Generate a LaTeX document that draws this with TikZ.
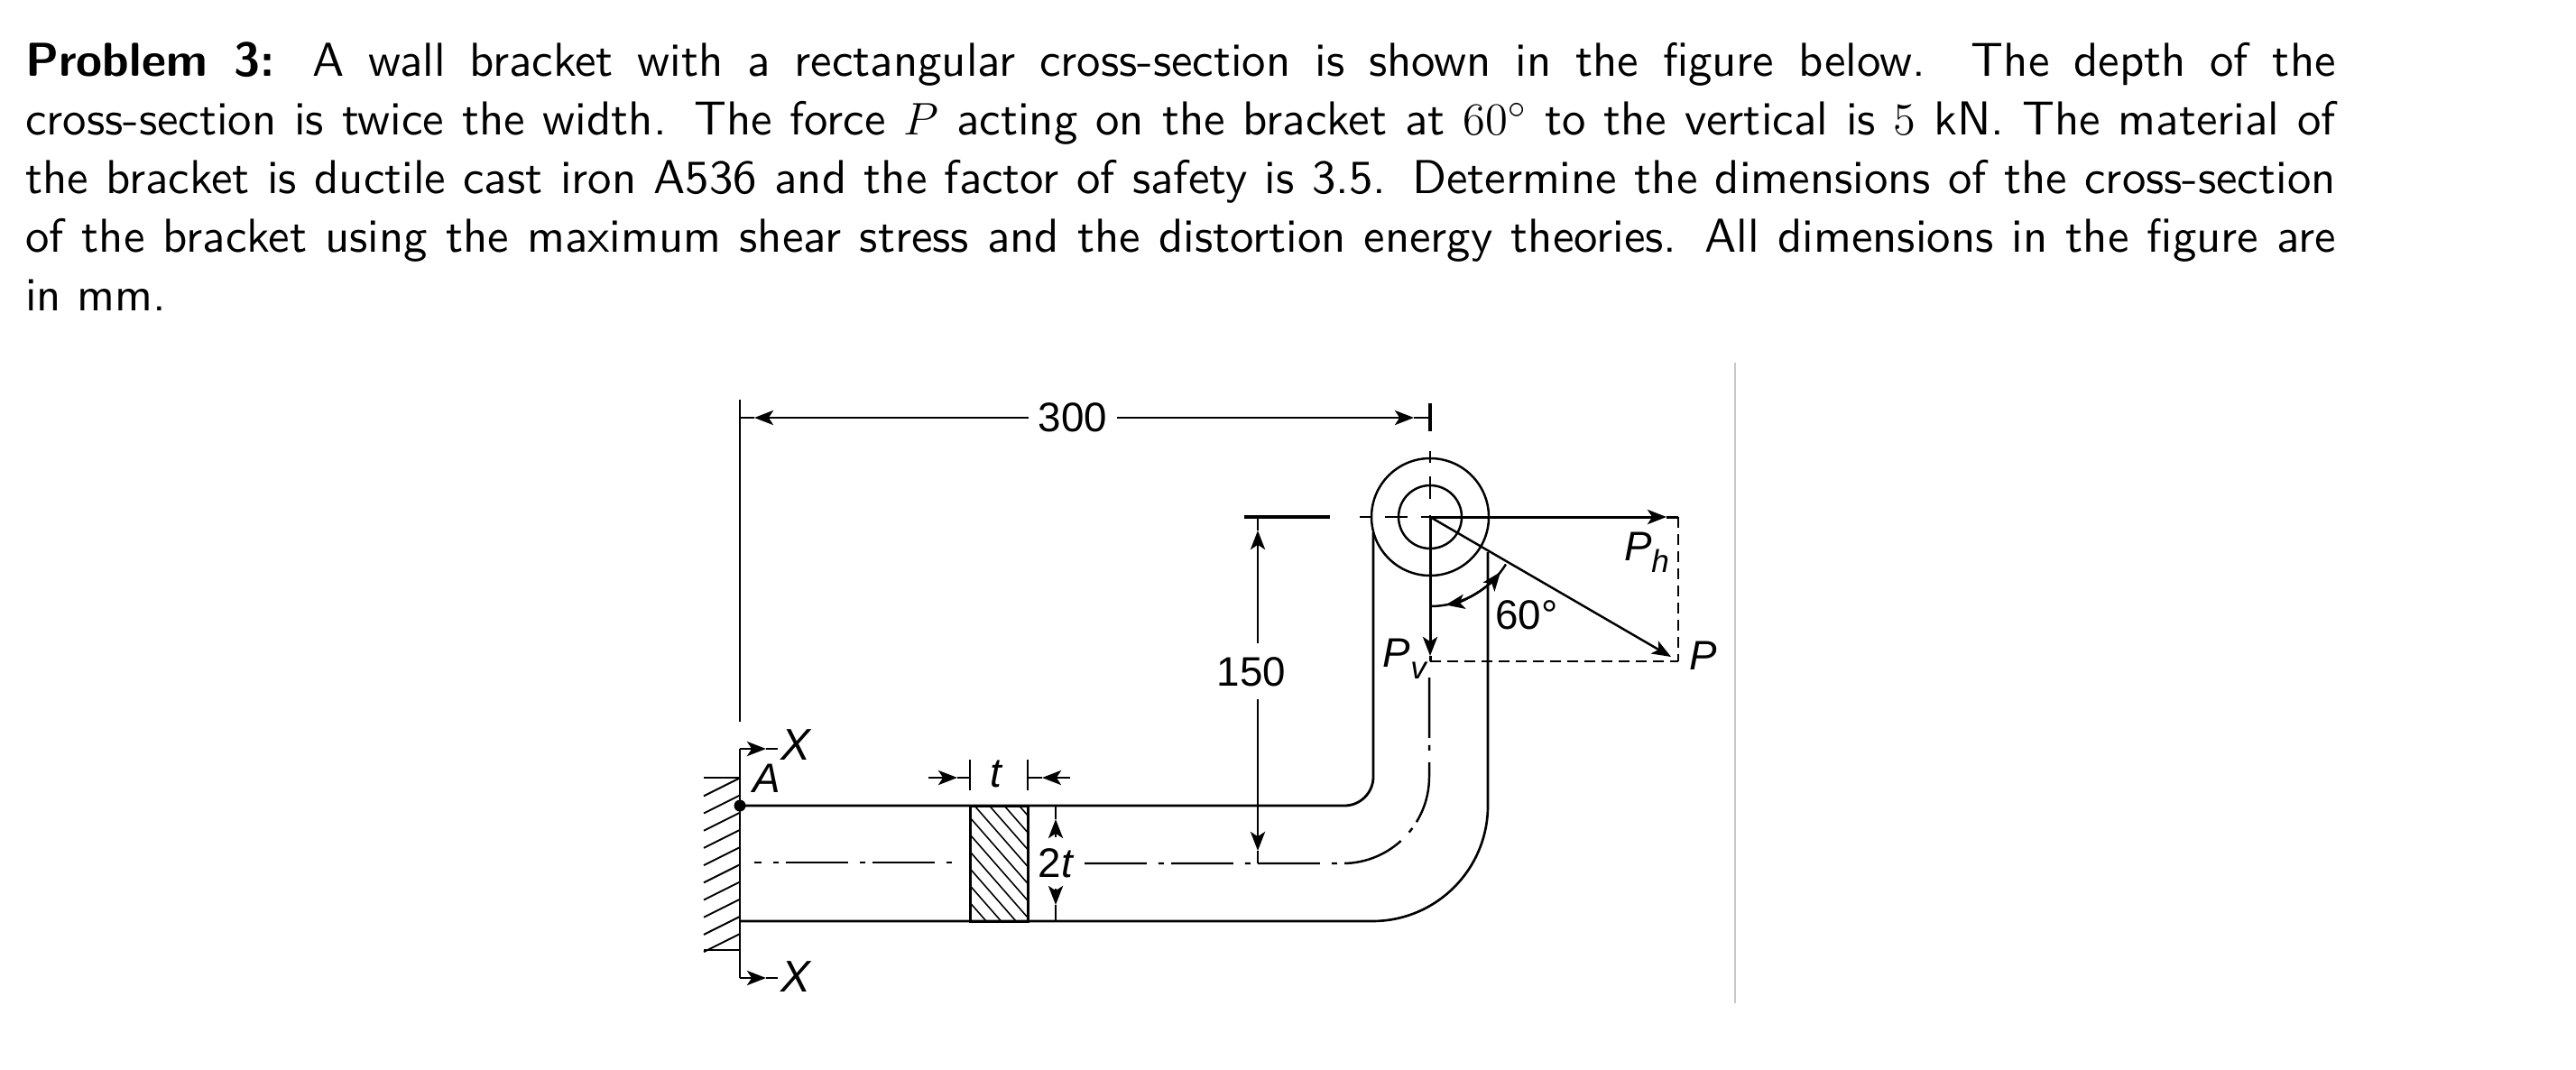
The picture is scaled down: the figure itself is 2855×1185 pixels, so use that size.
\documentclass[tikz,border=0pt]{standalone}
\usepackage{fontspec}
\newfontfamily\labelfont{Liberation Sans}
\newfontfamily\bodyfont[BoldFont=lmsans10-bold.otf]{lmsans10-regular.otf}
\usetikzlibrary{arrows.meta}
\def\dimtip(#1)(#2)(#3){\draw[-{Stealth[length=6pt,width=4.6pt,inset=1.5pt]}] (#1) -- (#2); \draw (#2) -- (#3);}
\tikzset{
	label text/.style={inner sep=0pt,font=\labelfont\fontsize{13}{15}\selectfont},
	axis line/.style={line width=0.7pt,dash pattern=on 19.6pt off 3.7pt on 1.7pt off 2.3pt},
	hidden line/.style={line width=0.8pt,dash pattern=on 3.4pt off 2pt},
}

\begin{document}
\begin{tikzpicture}[x=0.01cm,y=-0.01cm,line width=0.7pt]
		\useasboundingbox (0,0) rectangle (2855,1185);
		
		%%%%% problem text %%%%%
		\node[anchor=north west,inner sep=0pt,text width=25.59cm,align=justify,font=\bodyfont\fontsize{15}{18.45}\selectfont] (problem) at (27,46) {\textbf{Problem 3:} A wall bracket with a rectangular cross-section is shown in the figure below. The depth of the\linebreak cross-section is twice the width. The force $P$ acting on the bracket at $60^\circ$ to the vertical is $5$ kN. The material of\linebreak the bracket is ductile cast iron A536 and the factor of safety is 3.5. Determine the dimensions of the cross-section\linebreak of the bracket using the maximum shear stress and the distortion energy theories. All dimensions in the figure are\linebreak in mm.};
		
		%%%%% page edge %%%%%
		\draw[line width=0.6pt,black!22] (1923,402) -- (1923,1112);
		
		%%%%% wall %%%%%
		\draw[line width=0.8pt] (820,830) -- (820,1084);
		\draw (780,862) -- (820,862);
		\draw (780,1053) -- (820,1053);
		\foreach \k in {0,...,9}
			\draw[line width=0.55pt] (780,882.3+\k*19.2) -- (820,862.3+\k*19.2);
		\fill (820,893) circle (6.5);
		
		%%%%% bracket %%%%%
		\draw[line width=0.8pt] (820,893) -- (1490,893) arc (90:0:32) -- (1522,590);
		\draw[line width=0.75pt] (820,1021) -- (1521,1021) arc (90:0:128) -- (1649,612);
		\draw (1585,573) circle (65);
		\draw (1585,573) circle (35);
		
		%%%%% cross-section %%%%%
		\begin{scope}
			\clip (1075,893) rectangle (1139,1021);
			\foreach \k in {-8,...,3}
				\draw[line width=0.45pt] (1080+\k*16.5,893) -- +(112,128);
		\end{scope}
		\draw[line width=0.85pt] (1075,893) rectangle (1139,1021);
		
		%%%%% centre lines %%%%%
		\draw[axis line,dash phase=17.35pt] (836,956) -- (1056,956);
		\draw[axis line] (1202,957) -- (1488,957) arc (90:0:96) -- (1584,751);
		\draw[line width=0.8pt,dash pattern=on 3.7pt off 4.3pt on 7.1pt off 4.3pt on 2.8pt off 5pt] (1507,573) -- (1585,573);
		\draw[line width=0.8pt,dash pattern=on 3.7pt off 4.3pt on 7.1pt off 5pt] (1585,500) -- (1585,573);
		
		%%%%% dimensions %%%%%
		\draw (820,443) -- (820,800);
		\draw[line width=0.9pt] (1585,447) -- (1585,478);
		\dimtip(1140,463)(836,463)(820,463)
		\dimtip(1238,463)(1567,463)(1585,463)
		\node[label text] (width300) at (1189,463) {300};
		
		\draw[line width=0.95pt] (1379,573) -- (1474,573);
		\dimtip(1394,713)(1394,588)(1394,573)
		\dimtip(1394,775)(1394,943)(1394,957)
		\node[label text] (height150) at (1387,745) {150};
		
		\draw (1075,842) -- (1075,876);
		\draw (1139,842) -- (1139,876);
		\dimtip(1029,862)(1061,862)(1075,862)
		\dimtip(1186,862)(1155,862)(1139,862)
		\node[label text] (sizet) at (1104,858) {\itshape t};
		
		\dimtip(1170,928)(1170,908)(1170,893)
		\dimtip(1170,985)(1170,1003)(1170,1021)
		\node[label text] (sizett) at (1170,957) {2\itshape t};
		
		%%%%% section marks %%%%%
		\dimtip(820,830)(849,830)(862,830)
		\dimtip(820,1084)(849,1084)(862,1084)
		\node[label text,font=\labelfont\itshape\fontsize{14}{15}\selectfont] (markx) at (882,826) {X};
		\node[label text,font=\labelfont\itshape\fontsize{14}{15}\selectfont] (marky) at (882,1083) {X};
		\node[label text] (pointa) at (850,863) {\itshape A};
		
		%%%%% force %%%%%
		\begin{scope}[line width=0.85pt]
			\dimtip(1585,573)(1847,573)(1860,573)
			\dimtip(1585,573)(1585,727)(1585,733)
		\end{scope}
		\draw[-{Stealth[length=6pt,width=4.6pt,inset=1.5pt]}] (1585,573) -- (1852,728);
		\draw[hidden line] (1860,573) -- (1860,733);
		\draw[hidden line] (1585,733) -- (1860,733);
		\draw (1585,672) arc (90:32:99);
		\draw[-{Stealth[length=6pt,width=4.6pt,inset=1.5pt]}] (1641.8,654.1) arc (55:38:99);
		\draw[-{Stealth[length=6pt,width=4.6pt,inset=1.5pt]}] (1641.8,654.1) arc (55:80:99);
		\node[label text] (angle60) at (1692,682) {60°};
		\node[label text] (forcep) at (1888,727) {\itshape P};
		\node[label text] (forceh) at (1825,612) {\itshape P\raisebox{-0.55ex}{\fontsize{10}{12}\selectfont h}};
		\node[label text] (forcev) at (1557,730) {\itshape P\raisebox{-0.55ex}{\fontsize{10}{12}\selectfont v}};
		%%%%% end %%%%%
\end{tikzpicture}
\end{document}
